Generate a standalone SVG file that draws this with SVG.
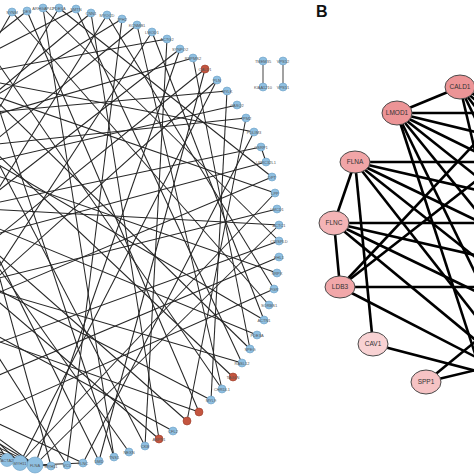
<svg xmlns="http://www.w3.org/2000/svg" width="474" height="474" viewBox="0 0 474 474">
<style>
.e{stroke:#262626;stroke-width:1.05;fill:none}
.pe{stroke:#8a8a8a;stroke-width:1.6}
.n{fill:#8fc0e2;stroke:#6b9fc6;stroke-width:0.6}
.r{fill:#c4553f;stroke:#9c3e2c;stroke-width:0.6}
.lb{font-family:"Liberation Sans",Arial,sans-serif;font-size:4px;fill:#555;text-anchor:middle}
.re{stroke:#000;stroke-width:2.6;fill:none}
.rn{stroke:#4a4a4a;stroke-width:1}
.rl{font-family:"Liberation Sans",Arial,sans-serif;font-size:6.5px;fill:#333;text-anchor:middle}
</style>
<rect width="474" height="474" fill="#fff"/>
<g id="edges-a">
<line class="e" x1="12" y1="12" x2="-166" y2="319"/>
<line class="e" x1="12" y1="12" x2="269" y2="305"/>
<line class="e" x1="27" y1="11" x2="199" y2="412"/>
<line class="e" x1="27" y1="11" x2="-166" y2="161"/>
<line class="e" x1="43" y1="8" x2="279" y2="241"/>
<line class="e" x1="43" y1="8" x2="114" y2="457"/>
<line class="e" x1="59" y1="8" x2="272" y2="177"/>
<line class="e" x1="59" y1="8" x2="-149" y2="355"/>
<line class="e" x1="76" y1="9" x2="242" y2="363"/>
<line class="e" x1="76" y1="9" x2="-149" y2="125"/>
<line class="e" x1="91" y1="13" x2="159" y2="439"/>
<line class="e" x1="91" y1="13" x2="-180" y2="240"/>
<line class="e" x1="107" y1="15" x2="274" y2="289"/>
<line class="e" x1="107" y1="15" x2="-126" y2="388"/>
<line class="e" x1="122" y1="19" x2="67" y2="465"/>
<line class="e" x1="122" y1="19" x2="-176" y2="200"/>
<line class="e" x1="137" y1="25" x2="222" y2="389"/>
<line class="e" x1="137" y1="25" x2="-176" y2="280"/>
<line class="e" x1="152" y1="32" x2="264" y2="320"/>
<line class="e" x1="152" y1="32" x2="-98" y2="416"/>
<line class="e" x1="167" y1="39" x2="145" y2="446"/>
<line class="e" x1="167" y1="39" x2="-126" y2="92"/>
<line class="e" x1="180" y1="49" x2="35" y2="465"/>
<line class="e" x1="180" y1="49" x2="-166" y2="319"/>
<line class="e" x1="193" y1="58" x2="250" y2="349"/>
<line class="e" x1="193" y1="58" x2="-166" y2="161"/>
<line class="e" x1="205" y1="69" x2="-149" y2="355"/>
<line class="e" x1="205" y1="69" x2="99" y2="461"/>
<line class="e" x1="217" y1="80" x2="-126" y2="388"/>
<line class="e" x1="217" y1="80" x2="20" y2="463"/>
<line class="e" x1="227" y1="91" x2="-149" y2="125"/>
<line class="e" x1="227" y1="91" x2="211" y2="400"/>
<line class="e" x1="237" y1="105" x2="-176" y2="200"/>
<line class="e" x1="246" y1="118" x2="-166" y2="161"/>
<line class="e" x1="246" y1="118" x2="187" y2="421"/>
<line class="e" x1="254" y1="132" x2="-98" y2="64"/>
<line class="e" x1="254" y1="132" x2="83" y2="463"/>
<line class="e" x1="261" y1="147" x2="-180" y2="240"/>
<line class="e" x1="261" y1="147" x2="266" y2="162"/>
<line class="e" x1="266" y1="162" x2="-176" y2="280"/>
<line class="e" x1="272" y1="177" x2="-149" y2="355"/>
<line class="e" x1="275" y1="193" x2="-98" y2="64"/>
<line class="e" x1="277" y1="209" x2="-166" y2="319"/>
<line class="e" x1="279" y1="225" x2="-176" y2="200"/>
<line class="e" x1="279" y1="241" x2="-126" y2="388"/>
<line class="e" x1="279" y1="257" x2="-98" y2="416"/>
<line class="e" x1="277" y1="273" x2="-149" y2="125"/>
<line class="e" x1="274" y1="289" x2="-65" y2="439"/>
<line class="e" x1="264" y1="320" x2="-126" y2="92"/>
<line class="e" x1="257" y1="335" x2="-166" y2="161"/>
<line class="e" x1="250" y1="349" x2="-65" y2="41"/>
<line class="e" x1="242" y1="363" x2="-180" y2="240"/>
<line class="e" x1="233" y1="377" x2="-98" y2="64"/>
<line class="e" x1="222" y1="389" x2="-29" y2="24"/>
<line class="e" x1="211" y1="400" x2="-176" y2="200"/>
<line class="e" x1="199" y1="412" x2="-176" y2="280"/>
<line class="e" x1="187" y1="421" x2="-149" y2="125"/>
<line class="e" x1="173" y1="431" x2="-180" y2="240"/>
<line class="e" x1="159" y1="439" x2="-166" y2="161"/>
<line class="e" x1="145" y1="446" x2="-65" y2="41"/>
<line class="e" x1="129" y1="452" x2="-126" y2="92"/>
<line class="e" x1="114" y1="457" x2="-29" y2="24"/>
<line class="e" x1="99" y1="461" x2="-98" y2="64"/>
<line class="e" x1="83" y1="463" x2="-149" y2="355"/>
<line class="e" x1="67" y1="465" x2="-149" y2="125"/>
<line class="e" x1="51" y1="466" x2="-65" y2="41"/>
<line class="e" x1="35" y1="465" x2="-166" y2="319"/>
<line class="e" x1="35" y1="465" x2="-149" y2="355"/>
<line class="e" x1="35" y1="465" x2="-126" y2="388"/>
<line class="e" x1="35" y1="465" x2="-98" y2="416"/>
<line class="e" x1="20" y1="463" x2="-176" y2="280"/>
<line class="e" x1="20" y1="463" x2="-113" y2="403"/>
<line class="e" x1="20" y1="463" x2="-82" y2="428"/>
<line class="e" x1="7" y1="460" x2="-58" y2="443"/>
<line class="e" x1="7" y1="460" x2="-36" y2="453"/>
<line class="e" x1="35" y1="465" x2="83" y2="463"/>
<line class="e" x1="35" y1="465" x2="51" y2="466"/>
<line class="e" x1="35" y1="465" x2="279" y2="225"/>
<line class="e" x1="20" y1="463" x2="275" y2="193"/>
<line class="e" x1="7" y1="460" x2="-166" y2="161"/>
<line class="pe" x1="263" y1="61" x2="263" y2="87"/>
<line class="pe" x1="283" y1="61" x2="283" y2="87"/>
</g>
<g id="nodes-a">
<g id="a1"><circle class="n" cx="12" cy="12" r="4"/><text class="lb" x="12" y="13.5">SYNM</text></g>
<g id="a2"><circle class="n" cx="27" cy="11" r="4"/><text class="lb" x="27" y="12.5">DES</text></g>
<g id="a3"><circle class="n" cx="43" cy="8" r="4"/><text class="lb" x="43" y="9.5">ARHGAP42</text></g>
<g id="a4"><circle class="n" cx="59" cy="8" r="4"/><text class="lb" x="59" y="9.5">PDE5A</text></g>
<g id="a5"><circle class="n" cx="76" cy="9" r="4"/><text class="lb" x="76" y="10.5">SMTN</text></g>
<g id="a6"><circle class="n" cx="91" cy="13" r="4"/><text class="lb" x="91" y="14.5">CNN1</text></g>
<g id="a7"><circle class="n" cx="107" cy="15" r="4"/><text class="lb" x="107" y="16.5">MYOCD</text></g>
<g id="a8"><circle class="n" cx="122" cy="19" r="4"/><text class="lb" x="122" y="20.5">JPH2</text></g>
<g id="a9"><circle class="n" cx="137" cy="25" r="4"/><text class="lb" x="137" y="26.5">KCNMB1</text></g>
<g id="a10"><circle class="n" cx="152" cy="32" r="4"/><text class="lb" x="152" y="33.5">LMOD1</text></g>
<g id="a11"><circle class="n" cx="167" cy="39" r="4"/><text class="lb" x="167" y="40.5">ACTG2</text></g>
<g id="a12"><circle class="n" cx="180" cy="49" r="4"/><text class="lb" x="180" y="50.5">SYNPO2</text></g>
<g id="a13"><circle class="n" cx="193" cy="58" r="4"/><text class="lb" x="193" y="59.5">RBPMS2</text></g>
<g id="a14"><circle class="r" cx="205" cy="69" r="4"/><text class="lb" x="205" y="70.5">CALD1</text></g>
<g id="a15"><circle class="n" cx="217" cy="80" r="4"/><text class="lb" x="217" y="81.5">PLN</text></g>
<g id="a16"><circle class="n" cx="227" cy="91" r="4"/><text class="lb" x="227" y="92.5">MYLK</text></g>
<g id="a17"><circle class="n" cx="237" cy="105" r="4"/><text class="lb" x="237" y="106.5">CASQ2</text></g>
<g id="a18"><circle class="n" cx="246" cy="118" r="4"/><text class="lb" x="246" y="119.5">TPM2</text></g>
<g id="a19"><circle class="n" cx="254" cy="132" r="4"/><text class="lb" x="254" y="133.5">PDLIM3</text></g>
<g id="a20"><circle class="n" cx="261" cy="147" r="4"/><text class="lb" x="261" y="148.5">CSRP1</text></g>
<g id="a21"><circle class="n" cx="266" cy="162" r="4"/><text class="lb" x="266" y="163.5">LRRC32L1</text></g>
<g id="a22"><circle class="n" cx="272" cy="177" r="4"/><text class="lb" x="272" y="178.5">DPT</text></g>
<g id="a23"><circle class="n" cx="275" cy="193" r="4"/><text class="lb" x="275" y="194.5">LPP</text></g>
<g id="a24"><circle class="n" cx="277" cy="209" r="4"/><text class="lb" x="277" y="210.5">LMCD1</text></g>
<g id="a25"><circle class="n" cx="279" cy="225" r="4"/><text class="lb" x="279" y="226.5">ACTC1</text></g>
<g id="a26"><circle class="n" cx="279" cy="241" r="4"/><text class="lb" x="279" y="242.5">CRISPLD</text></g>
<g id="a27"><circle class="n" cx="279" cy="257" r="4"/><text class="lb" x="279" y="258.5">FHL1</text></g>
<g id="a28"><circle class="n" cx="277" cy="273" r="4"/><text class="lb" x="277" y="274.5">SRPX</text></g>
<g id="a29"><circle class="n" cx="274" cy="289" r="4"/><text class="lb" x="274" y="290.5">PGR</text></g>
<g id="a30"><circle class="n" cx="269" cy="305" r="4"/><text class="lb" x="269" y="306.5">SORBS1</text></g>
<g id="a31"><circle class="n" cx="264" cy="320" r="4"/><text class="lb" x="264" y="321.5">ACTN1</text></g>
<g id="a32"><circle class="n" cx="257" cy="335" r="4"/><text class="lb" x="257" y="336.5">PDE3A</text></g>
<g id="a33"><circle class="n" cx="250" cy="349" r="4"/><text class="lb" x="250" y="350.5">SPEG</text></g>
<g id="a34"><circle class="n" cx="242" cy="363" r="4"/><text class="lb" x="242" y="364.5">RASL12</text></g>
<g id="a35"><circle class="r" cx="233" cy="377" r="4"/><text class="lb" x="233" y="378.5">TAGLN</text></g>
<g id="a36"><circle class="n" cx="222" cy="389" r="4"/><text class="lb" x="222" y="390.5">CHRDL1</text></g>
<g id="a37"><circle class="n" cx="211" cy="400" r="4"/><text class="lb" x="211" y="401.5">MYL9</text></g>
<g id="a38"><circle class="r" cx="199" cy="412" r="4"/></g>
<g id="a39"><circle class="r" cx="187" cy="421" r="4"/></g>
<g id="a40"><circle class="n" cx="173" cy="431" r="4"/><text class="lb" x="173" y="432.5">CFL2</text></g>
<g id="a41"><circle class="r" cx="159" cy="439" r="4"/><text class="lb" x="159" y="440.5">ASPN1</text></g>
<g id="a42"><circle class="n" cx="145" cy="446" r="4"/><text class="lb" x="145" y="447.5">CKB</text></g>
<g id="a43"><circle class="n" cx="129" cy="452" r="4"/><text class="lb" x="129" y="453.5">NEXN</text></g>
<g id="a44"><circle class="n" cx="114" cy="457" r="4"/><text class="lb" x="114" y="458.5">TNS1</text></g>
<g id="a45"><circle class="n" cx="99" cy="461" r="4"/><text class="lb" x="99" y="462.5">DMD</text></g>
<g id="a46"><circle class="n" cx="83" cy="463" r="4"/><text class="lb" x="83" y="464.5">FLNC</text></g>
<g id="a47"><circle class="n" cx="67" cy="465" r="4"/><text class="lb" x="67" y="466.5">VCL</text></g>
<g id="a48"><circle class="n" cx="51" cy="466" r="4"/><text class="lb" x="51" y="467.5">MYH11</text></g>
<g id="a49"><circle class="n" cx="35" cy="465" r="8"/><text class="lb" x="35" y="466.5">FLNA</text></g>
<g id="a50"><circle class="n" cx="20" cy="463" r="7.5"/><text class="lb" x="20" y="464.5">MYH11</text></g>
<g id="a51"><circle class="n" cx="7" cy="460" r="6.5"/><text class="lb" x="7" y="461.5">ACTA2</text></g>
<g id="p1"><circle class="n" cx="263" cy="61" r="4"/><text class="lb" x="263" y="62.5">TMEM35</text></g>
<g id="p2"><circle class="n" cx="263" cy="87" r="4"/><text class="lb" x="263" y="88.5">KIAA1210</text></g>
<g id="p3"><circle class="n" cx="283" cy="61" r="4"/><text class="lb" x="283" y="62.5">VPS52</text></g>
<g id="p4"><circle class="n" cx="283" cy="87" r="4"/><text class="lb" x="283" y="88.5">VPS51</text></g>
</g>
<text x="316" y="17" font-family="'Liberation Sans',Arial,sans-serif" font-size="16" font-weight="bold" fill="#111">B</text>
<g id="edges-b">
<line class="re" x1="460" y1="87" x2="397" y2="113"/>
<line class="re" x1="460" y1="87" x2="600" y2="162"/>
<line class="re" x1="460" y1="87" x2="620" y2="223"/>
<line class="re" x1="460" y1="87" x2="615" y2="287"/>
<line class="re" x1="460" y1="87" x2="585" y2="344"/>
<line class="re" x1="460" y1="87" x2="530" y2="385"/>
<line class="re" x1="397" y1="113" x2="563" y2="113"/>
<line class="re" x1="397" y1="113" x2="600" y2="162"/>
<line class="re" x1="397" y1="113" x2="620" y2="223"/>
<line class="re" x1="397" y1="113" x2="615" y2="287"/>
<line class="re" x1="397" y1="113" x2="585" y2="344"/>
<line class="re" x1="397" y1="113" x2="530" y2="385"/>
<line class="re" x1="397" y1="113" x2="490" y2="400"/>
<line class="re" x1="355" y1="162" x2="600" y2="162"/>
<line class="re" x1="355" y1="162" x2="620" y2="223"/>
<line class="re" x1="355" y1="162" x2="615" y2="287"/>
<line class="re" x1="355" y1="162" x2="585" y2="344"/>
<line class="re" x1="355" y1="162" x2="530" y2="385"/>
<line class="re" x1="355" y1="162" x2="334" y2="223"/>
<line class="re" x1="355" y1="162" x2="373" y2="344"/>
<line class="re" x1="334" y1="223" x2="620" y2="223"/>
<line class="re" x1="334" y1="223" x2="615" y2="287"/>
<line class="re" x1="334" y1="223" x2="585" y2="344"/>
<line class="re" x1="334" y1="223" x2="530" y2="385"/>
<line class="re" x1="334" y1="223" x2="340" y2="287"/>
<line class="re" x1="340" y1="287" x2="615" y2="287"/>
<line class="re" x1="340" y1="287" x2="525" y2="90"/>
<line class="re" x1="340" y1="287" x2="563" y2="113"/>
<line class="re" x1="340" y1="287" x2="530" y2="385"/>
<line class="re" x1="373" y1="344" x2="530" y2="385"/>
<line class="re" x1="426" y1="382" x2="620" y2="223"/>
<line class="re" x1="426" y1="382" x2="585" y2="344"/>
</g>
<g id="nodes-b">
<g id="CALD1"><ellipse class="rn" cx="460" cy="87" rx="15" ry="12" fill="#ec9496"/><text class="rl" x="460" y="89.3">CALD1</text></g>
<g id="LMOD1"><ellipse class="rn" cx="397" cy="113" rx="15" ry="12" fill="#ec9496"/><text class="rl" x="397" y="115.3">LMOD1</text></g>
<g id="FLNA"><ellipse class="rn" cx="355" cy="162" rx="15" ry="11" fill="#f1a5a7"/><text class="rl" x="355" y="164.3">FLNA</text></g>
<g id="FLNC"><ellipse class="rn" cx="334" cy="223" rx="15" ry="12" fill="#f4b4b6"/><text class="rl" x="334" y="225.3">FLNC</text></g>
<g id="LDB3"><ellipse class="rn" cx="340" cy="287" rx="15" ry="11" fill="#f1a7a9"/><text class="rl" x="340" y="289.3">LDB3</text></g>
<g id="CAV1"><ellipse class="rn" cx="373" cy="344" rx="15" ry="12" fill="#f8d2d3"/><text class="rl" x="373" y="346.3">CAV1</text></g>
<g id="SPP1"><ellipse class="rn" cx="426" cy="382" rx="15" ry="12" fill="#f6c3c4"/><text class="rl" x="426" y="384.3">SPP1</text></g>
</g>
</svg>
